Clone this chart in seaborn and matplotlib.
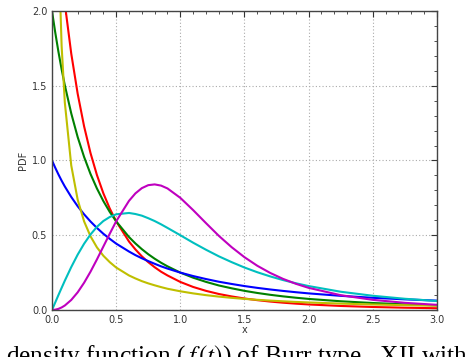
import numpy as np
import pandas as pd
import matplotlib
matplotlib.use("Agg")
import matplotlib.pyplot as plt
import seaborn as sns

# Burr type XII densities
x = [0.0, 0.025, 0.05, 0.075, 0.1, 0.15, 0.2, 0.25, 0.3, 0.35, 0.4, 0.45, 0.5,
     0.6, 0.65, 0.7, 0.75, 0.8, 0.85, 0.9, 1.0, 1.1, 1.2, 1.3, 1.4, 1.5,
     1.6, 1.7, 1.8, 1.9, 2.0, 2.25, 2.5, 2.75, 3.0]

pdf_red = [3.0, 2.719, 2.469, 2.247, 2.049, 1.715, 1.447, 1.229, 1.050, 0.903, 0.781, 0.679, 0.593,
           0.458, 0.405, 0.359, 0.320, 0.286, 0.256, 0.231, 0.1875, 0.154, 0.128, 0.107, 0.0906, 0.0768,
           0.0657, 0.0564, 0.0488, 0.0424, 0.037, 0.0269, 0.020, 0.0152, 0.0117]
pdf_green = [2.0, 1.858, 1.728, 1.610, 1.503, 1.315, 1.157, 1.024, 0.910, 0.813, 0.729, 0.656, 0.593,
             0.488, 0.445, 0.407, 0.373, 0.343, 0.316, 0.292, 0.25, 0.216, 0.188, 0.164, 0.145, 0.128,
             0.1138, 0.1016, 0.0911, 0.082, 0.074, 0.0583, 0.0466, 0.0379, 0.0313]
pdf_blue = [1.0, 0.952, 0.907, 0.865, 0.826, 0.756, 0.694, 0.640, 0.592, 0.549, 0.510, 0.476, 0.444,
            0.391, 0.367, 0.346, 0.327, 0.309, 0.292, 0.277, 0.25, 0.227, 0.207, 0.189, 0.174, 0.16,
            0.1479, 0.1372, 0.1276, 0.1189, 0.111, 0.0947, 0.0816, 0.0711, 0.0625]
pdf_yellow = [np.nan, 4.072, 2.441, 1.766, 1.387, 0.967, 0.738, 0.593, 0.493, 0.419, 0.363, 0.320, 0.284,
              0.231, 0.211, 0.193, 0.178, 0.165, 0.153, 0.142, 0.125, 0.111, 0.0992, 0.0895, 0.0812, 0.0742,
              0.068, 0.0627, 0.0581, 0.0539, 0.0503, 0.0427, 0.0368, 0.0321, 0.0283]
pdf_cyan = [0.0, 0.0499, 0.0995, 0.148, 0.196, 0.287, 0.370, 0.443, 0.505, 0.556, 0.595, 0.622, 0.64,
            0.649, 0.642, 0.631, 0.614, 0.595, 0.573, 0.549, 0.5, 0.450, 0.403, 0.359, 0.320, 0.284,
            0.2525, 0.2247, 0.2002, 0.1788, 0.16, 0.122, 0.0951, 0.075, 0.06]
pdf_magenta = [0.0, 0.0019, 0.0075, 0.0169, 0.0299, 0.0671, 0.118, 0.182, 0.256, 0.338, 0.424, 0.510, 0.593,
               0.730, 0.780, 0.815, 0.835, 0.840, 0.832, 0.813, 0.75, 0.668, 0.581, 0.496, 0.420, 0.353,
               0.2957, 0.248, 0.2082, 0.1753, 0.148, 0.0989, 0.0678, 0.0478, 0.0344]

series = {
    "red": pdf_red,
    "green": pdf_green,
    "blue": pdf_blue,
    "yellow": pdf_yellow,
    "cyan": pdf_cyan,
    "magenta": pdf_magenta,
}
colors = {
    "red": "#ff0000",
    "green": "#008000",
    "blue": "#0000ff",
    "yellow": "#bfbf00",
    "cyan": "#00bfbf",
    "magenta": "#bf00bf",
}

sns.set_style("white")
plt.rcParams["mathtext.fontset"] = "stix"

fig = plt.figure(figsize=(4.74, 3.57), dpi=100)
ax = fig.add_axes([0.1097, 0.1317, 0.8122, 0.8375])

for name, vals in series.items():
    df = pd.DataFrame({"x": x, "pdf": vals}).dropna()
    sns.lineplot(data=df, x="x", y="pdf", color=colors[name], lw=1.5, ax=ax, sort=False)

ax.set_xlim(0, 3)
ax.set_ylim(0, 2)
ax.set_xticks(np.arange(0, 3.01, 0.5))
ax.set_yticks(np.arange(0, 2.01, 0.5))
ax.set_xticks(np.arange(0, 3.01, 0.1), minor=True)
ax.set_yticks(np.arange(0, 2.01, 0.1), minor=True)
ax.set_xticklabels(["%.1f" % v for v in np.arange(0, 3.01, 0.5)])
ax.set_yticklabels(["%.1f" % v for v in np.arange(0, 2.01, 0.5)])
ax.tick_params(which="both", direction="in", top=True, right=True, labelsize=7,
               labelcolor="#333333", color="#333333")
ax.tick_params(which="major", length=4, width=0.8)
ax.tick_params(which="minor", length=2, width=0.6)
ax.grid(True, which="major", ls=(0, (1, 2)), lw=0.8, color="#aaaaaa")
for sp in ax.spines.values():
    sp.set_color("#444444")
    sp.set_linewidth(1.0)
ax.set_xlabel("x", fontsize=7, color="#333333", labelpad=0)
ax.set_ylabel("PDF", fontsize=7, color="#333333", labelpad=3)

# caption of the source figure, cut by the bottom edge like in the reference
fig.text(0.5, -0.017, "density function ($\\,f\\,(t)$) of Burr type \u2013XII with",
         ha="center", va="baseline", fontsize=18.3, family="Liberation Serif", color="black")

fig.savefig("out.png", dpi=100)
